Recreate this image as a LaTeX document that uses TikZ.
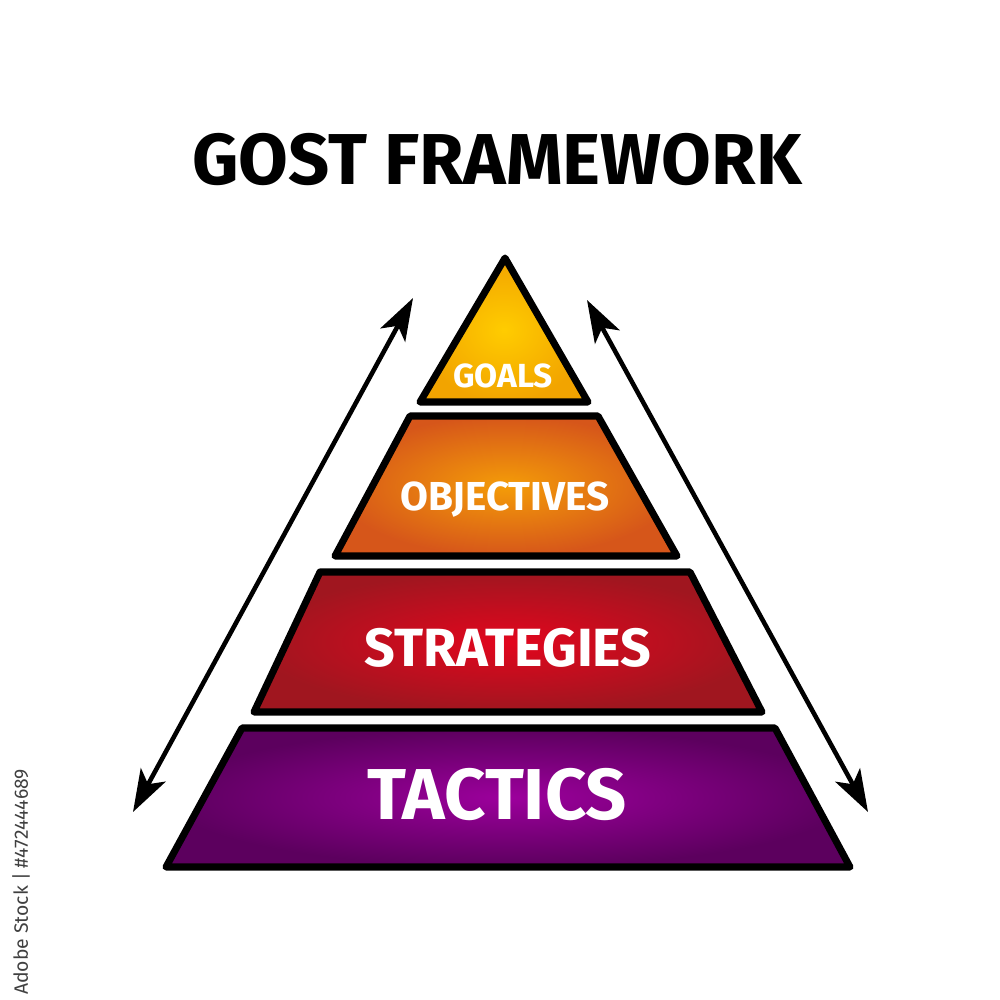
\documentclass[tikz,border=0pt]{standalone}
\usepackage{fontspec}
\usepackage{tikz}
\usetikzlibrary{arrows.meta, positioning}
\setmainfont{Fira Sans}
\definecolor{goalsin}{HTML}{FFCC00}
\definecolor{goalsout}{HTML}{F2A400}
\definecolor{objin}{HTML}{F49C08}
\definecolor{objout}{HTML}{D6561A}
\definecolor{stratin}{HTML}{E2061E}
\definecolor{stratout}{HTML}{A0161F}
\definecolor{tactin}{HTML}{9C009C}
\definecolor{tactout}{HTML}{5C005E}
\tikzstyle{layer} = [draw=black, line width=2pt, line join=round]
\tikzstyle{layertext} = [text=white, inner sep=0pt]
\tikzstyle{arrow} = [line width=1.3pt, {Stealth[length=12pt, width=8pt, inset=3pt]}-{Stealth[length=12pt, width=8pt, inset=3pt]}]

\begin{document}
\begin{tikzpicture}[x=0.01cm, y=-0.01cm]
	\useasboundingbox (0,0) rectangle (1000,1000);
	\fill [white] (0,0) rectangle (1000,1000);

	\node (title) [font=\fontsize{20.5}{25}\bfseries] at (497,160) {GOST FRAMEWORK};

	\draw [layer, inner color=goalsin, outer color=goalsout] (505,258) -- (588,402) -- (420,402) -- cycle;
	\draw [layer, inner color=objin, outer color=objout] (410,416) -- (598,416) -- (677,556) -- (335,556) -- cycle;
	\draw [layer, inner color=stratin, outer color=stratout] (320,572) -- (690,572) -- (762,712) -- (254,712) -- cycle;
	\draw [layer, inner color=tactin, outer color=tactout] (242,728) -- (775,728) -- (850,867) -- (166,867) -- cycle;

	\node (goals) [layertext, font=\fontsize{9.5}{11}\bfseries] at (503,376) {GOALS};
	\node (objectives) [layertext, font=\fontsize{11.5}{14}\bfseries] at (505,500) {OBJECTIVES};
	\node (strategies) [layertext, font=\fontsize{15.3}{18}\bfseries] at (508,648) {STRATEGIES};
	\node (tactics) [layertext, font=\fontsize{20.5}{24}\bfseries] at (497,795) {TACTICS};

	\coordinate (lefttop) at (413,298);
	\coordinate (leftbottom) at (133,812);
	\coordinate (righttop) at (587,300);
	\coordinate (rightbottom) at (868,812);
	\draw [arrow] (lefttop) -- (leftbottom);
	\draw [arrow] (righttop) -- (rightbottom);

	\node (stockid) [rotate=90, text=black!75, font=\fontsize{5.5}{7}\selectfont] at (21,882) {Adobe Stock | \#472444689};
\end{tikzpicture}
\end{document}
